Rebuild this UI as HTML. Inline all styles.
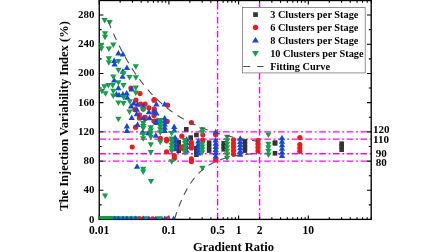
<!DOCTYPE html>
<html><head><meta charset="utf-8"><title>Injection Variability Index vs Gradient Ratio</title>
<style>html,body{margin:0;padding:0;background:#fff;overflow:hidden}svg{display:block}</style></head>
<body>
<svg width="448" height="252" viewBox="0 0 448 252">
<rect x="0" y="0" width="448" height="252" fill="#fff"/>
<defs><clipPath id="c"><rect x="99.25" y="0.5" width="271.95" height="218.85"/></clipPath></defs>
<line x1="103.45" x2="367.0" y1="131.86" y2="131.86" stroke="#ff00ff" stroke-width="1.35" fill="none" stroke-dasharray="6.6 2.65 1.9 2.6" stroke-dashoffset="4.2"/>
<line x1="99.25" x2="371.2" y1="139.17" y2="139.17" stroke="#ff00ff" stroke-width="1.35" fill="none" stroke-dasharray="6.6 2.65 1.9 2.6" stroke-dashoffset="0"/>
<line x1="99.25" x2="371.2" y1="153.77" y2="153.77" stroke="#ff00ff" stroke-width="1.35" fill="none" stroke-dasharray="6.6 2.65 1.9 2.6" stroke-dashoffset="0"/>
<line x1="103.45" x2="367.0" y1="161.08" y2="161.08" stroke="#ff00ff" stroke-width="1.35" fill="none" stroke-dasharray="6.6 2.65 1.9 2.6" stroke-dashoffset="4.2"/>
<line y1="219.6" y2="0.5" x1="217.62" x2="217.62" stroke="#ff00ff" stroke-width="1.35" fill="none" stroke-dasharray="6.65 2.9 1.7 2.75"/>
<line y1="219.6" y2="0.5" x1="259.58" x2="259.58" stroke="#ff00ff" stroke-width="1.35" fill="none" stroke-dasharray="6.65 2.9 1.7 2.75"/>
<rect x="99.25" y="0.5" width="271.95" height="218.9" fill="none" stroke="#000" stroke-width="1.35"/>
<path d="M99.20,219.4 v-3.9 M99.20,0.5 v3.9 M120.18,219.4 v-2.2 M120.18,0.5 v2.2 M132.46,219.4 v-2.2 M132.46,0.5 v2.2 M141.16,219.4 v-2.2 M141.16,0.5 v2.2 M147.92,219.4 v-2.2 M147.92,0.5 v2.2 M153.44,219.4 v-2.2 M153.44,0.5 v2.2 M158.10,219.4 v-2.2 M158.10,0.5 v2.2 M162.15,219.4 v-2.2 M162.15,0.5 v2.2 M165.71,219.4 v-2.2 M165.71,0.5 v2.2 M168.90,219.4 v-3.9 M168.90,0.5 v3.9 M189.88,219.4 v-2.2 M189.88,0.5 v2.2 M202.16,219.4 v-2.2 M202.16,0.5 v2.2 M210.86,219.4 v-2.2 M210.86,0.5 v2.2 M217.62,219.4 v-2.2 M217.62,0.5 v2.2 M223.14,219.4 v-2.2 M223.14,0.5 v2.2 M227.80,219.4 v-2.2 M227.80,0.5 v2.2 M231.85,219.4 v-2.2 M231.85,0.5 v2.2 M235.41,219.4 v-2.2 M235.41,0.5 v2.2 M238.60,219.4 v-3.9 M238.60,0.5 v3.9 M259.58,219.4 v-2.2 M259.58,0.5 v2.2 M271.86,219.4 v-2.2 M271.86,0.5 v2.2 M280.56,219.4 v-2.2 M280.56,0.5 v2.2 M287.32,219.4 v-2.2 M287.32,0.5 v2.2 M292.84,219.4 v-2.2 M292.84,0.5 v2.2 M297.50,219.4 v-2.2 M297.50,0.5 v2.2 M301.55,219.4 v-2.2 M301.55,0.5 v2.2 M305.11,219.4 v-2.2 M305.11,0.5 v2.2 M308.30,219.4 v-3.9 M308.30,0.5 v3.9 M329.28,219.4 v-2.2 M329.28,0.5 v2.2 M341.56,219.4 v-2.2 M341.56,0.5 v2.2 M350.26,219.4 v-2.2 M350.26,0.5 v2.2 M357.02,219.4 v-2.2 M357.02,0.5 v2.2 M362.54,219.4 v-2.2 M362.54,0.5 v2.2 M367.20,219.4 v-2.2 M367.20,0.5 v2.2 M371.25,219.4 v-2.2 M371.25,0.5 v2.2 M99.25,219.50 h4.2 M371.2,219.50 h-4.2 M99.25,204.89 h2.4 M371.2,204.89 h-2.4 M99.25,190.29 h4.2 M371.2,190.29 h-4.2 M99.25,175.68 h2.4 M371.2,175.68 h-2.4 M99.25,161.08 h4.2 M371.2,161.08 h-4.2 M99.25,146.47 h2.4 M371.2,146.47 h-2.4 M99.25,131.86 h4.2 M371.2,131.86 h-4.2 M99.25,117.26 h2.4 M371.2,117.26 h-2.4 M99.25,102.65 h4.2 M371.2,102.65 h-4.2 M99.25,88.05 h2.4 M371.2,88.05 h-2.4 M99.25,73.44 h4.2 M371.2,73.44 h-4.2 M99.25,58.83 h2.4 M371.2,58.83 h-2.4 M99.25,44.23 h4.2 M371.2,44.23 h-4.2 M99.25,29.62 h2.4 M371.2,29.62 h-2.4 M99.25,15.02 h4.2 M371.2,15.02 h-4.2 M99.25,0.41 h2.4 M371.2,0.41 h-2.4" stroke="#000" stroke-width="1.1" fill="none"/>
<g clip-path="url(#c)">
<rect x="184.00" y="127.00" width="4.6" height="4.6" fill="#333"/>
<rect x="194.10" y="132.70" width="4.6" height="4.6" fill="#333"/>
<rect x="188.40" y="135.30" width="4.6" height="4.6" fill="#333"/>
<rect x="176.40" y="140.00" width="4.6" height="4.6" fill="#333"/>
<rect x="176.40" y="144.20" width="4.6" height="4.6" fill="#333"/>
<rect x="176.40" y="148.40" width="4.6" height="4.6" fill="#333"/>
<rect x="194.10" y="146.00" width="4.6" height="4.6" fill="#333"/>
<rect x="194.10" y="149.20" width="4.6" height="4.6" fill="#333"/>
<rect x="194.10" y="152.40" width="4.6" height="4.6" fill="#333"/>
<rect x="206.80" y="140.40" width="4.6" height="4.6" fill="#333"/>
<rect x="206.80" y="144.35" width="4.6" height="4.6" fill="#333"/>
<rect x="206.80" y="148.30" width="4.6" height="4.6" fill="#333"/>
<rect x="221.40" y="141.00" width="4.6" height="4.6" fill="#333"/>
<rect x="221.40" y="144.00" width="4.6" height="4.6" fill="#333"/>
<rect x="221.40" y="147.00" width="4.6" height="4.6" fill="#333"/>
<rect x="242.60" y="139.00" width="4.6" height="4.6" fill="#333"/>
<rect x="242.60" y="142.10" width="4.6" height="4.6" fill="#333"/>
<rect x="242.60" y="145.20" width="4.6" height="4.6" fill="#333"/>
<rect x="242.60" y="148.30" width="4.6" height="4.6" fill="#333"/>
<rect x="272.70" y="140.30" width="4.6" height="4.6" fill="#333"/>
<rect x="272.70" y="141.10" width="4.6" height="4.6" fill="#333"/>
<rect x="272.70" y="151.00" width="4.6" height="4.6" fill="#333"/>
<rect x="339.35" y="141.40" width="4.6" height="4.6" fill="#333"/>
<rect x="339.35" y="144.40" width="4.6" height="4.6" fill="#333"/>
<rect x="339.35" y="147.40" width="4.6" height="4.6" fill="#333"/>
<circle cx="140.00" cy="93.60" r="2.6" fill="#ee1a1a"/>
<circle cx="135.90" cy="100.20" r="2.6" fill="#ee1a1a"/>
<circle cx="140.60" cy="104.00" r="2.6" fill="#ee1a1a"/>
<circle cx="145.10" cy="104.00" r="2.6" fill="#ee1a1a"/>
<circle cx="143.20" cy="109.00" r="2.6" fill="#ee1a1a"/>
<circle cx="148.90" cy="107.80" r="2.6" fill="#ee1a1a"/>
<circle cx="154.00" cy="100.20" r="2.6" fill="#ee1a1a"/>
<circle cx="134.90" cy="109.70" r="2.6" fill="#ee1a1a"/>
<circle cx="139.40" cy="114.80" r="2.6" fill="#ee1a1a"/>
<circle cx="145.10" cy="118.60" r="2.6" fill="#ee1a1a"/>
<circle cx="154.00" cy="115.40" r="2.6" fill="#ee1a1a"/>
<circle cx="135.60" cy="127.20" r="2.6" fill="#ee1a1a"/>
<circle cx="139.40" cy="117.90" r="2.6" fill="#ee1a1a"/>
<circle cx="145.10" cy="117.30" r="2.6" fill="#ee1a1a"/>
<circle cx="154.00" cy="121.00" r="2.6" fill="#ee1a1a"/>
<circle cx="132.20" cy="147.00" r="2.6" fill="#ee1a1a"/>
<circle cx="130.90" cy="88.10" r="2.6" fill="#ee1a1a"/>
<circle cx="154.30" cy="99.50" r="2.6" fill="#ee1a1a"/>
<circle cx="167.50" cy="105.20" r="2.6" fill="#ee1a1a"/>
<circle cx="154.30" cy="109.00" r="2.6" fill="#ee1a1a"/>
<circle cx="154.00" cy="111.50" r="2.6" fill="#ee1a1a"/>
<circle cx="155.20" cy="121.10" r="2.6" fill="#ee1a1a"/>
<circle cx="167.20" cy="121.40" r="2.6" fill="#ee1a1a"/>
<circle cx="191.40" cy="122.50" r="2.6" fill="#ee1a1a"/>
<circle cx="160.30" cy="138.40" r="2.6" fill="#ee1a1a"/>
<circle cx="166.60" cy="151.80" r="2.6" fill="#ee1a1a"/>
<circle cx="181.80" cy="136.20" r="2.6" fill="#ee1a1a"/>
<circle cx="191.40" cy="158.80" r="2.6" fill="#ee1a1a"/>
<circle cx="191.40" cy="161.40" r="2.6" fill="#ee1a1a"/>
<circle cx="202.80" cy="134.80" r="2.6" fill="#ee1a1a"/>
<circle cx="202.80" cy="140.20" r="2.6" fill="#ee1a1a"/>
<circle cx="215.70" cy="134.70" r="2.6" fill="#ee1a1a"/>
<circle cx="215.70" cy="159.90" r="2.6" fill="#ee1a1a"/>
<circle cx="299.90" cy="137.60" r="2.6" fill="#ee1a1a"/>
<circle cx="166.60" cy="139.40" r="2.6" fill="#ee1a1a"/>
<circle cx="166.60" cy="140.80" r="2.6" fill="#ee1a1a"/>
<circle cx="174.30" cy="155.70" r="2.6" fill="#ee1a1a"/>
<circle cx="174.30" cy="158.30" r="2.6" fill="#ee1a1a"/>
<circle cx="181.80" cy="147.00" r="2.6" fill="#ee1a1a"/>
<circle cx="181.80" cy="148.20" r="2.6" fill="#ee1a1a"/>
<circle cx="191.40" cy="142.30" r="2.6" fill="#ee1a1a"/>
<circle cx="191.40" cy="145.10" r="2.6" fill="#ee1a1a"/>
<circle cx="191.40" cy="147.90" r="2.6" fill="#ee1a1a"/>
<circle cx="233.50" cy="139.80" r="2.6" fill="#ee1a1a"/>
<circle cx="233.50" cy="143.38" r="2.6" fill="#ee1a1a"/>
<circle cx="233.50" cy="146.95" r="2.6" fill="#ee1a1a"/>
<circle cx="233.50" cy="150.53" r="2.6" fill="#ee1a1a"/>
<circle cx="233.50" cy="154.10" r="2.6" fill="#ee1a1a"/>
<circle cx="258.00" cy="140.50" r="2.6" fill="#ee1a1a"/>
<circle cx="258.00" cy="143.97" r="2.6" fill="#ee1a1a"/>
<circle cx="258.00" cy="147.43" r="2.6" fill="#ee1a1a"/>
<circle cx="258.00" cy="150.90" r="2.6" fill="#ee1a1a"/>
<circle cx="299.80" cy="144.50" r="2.6" fill="#ee1a1a"/>
<circle cx="299.80" cy="147.90" r="2.6" fill="#ee1a1a"/>
<circle cx="299.80" cy="151.30" r="2.6" fill="#ee1a1a"/>
<path d="M115.25,55.40 L121.55,55.40 L118.40,49.90Z" fill="#1048e0"/>
<path d="M119.75,56.40 L126.05,56.40 L122.90,50.90Z" fill="#1048e0"/>
<path d="M111.05,63.00 L117.35,63.00 L114.20,57.50Z" fill="#1048e0"/>
<path d="M111.45,66.50 L117.75,66.50 L114.60,61.00Z" fill="#1048e0"/>
<path d="M123.75,70.00 L130.05,70.00 L126.90,64.50Z" fill="#1048e0"/>
<path d="M119.75,73.80 L126.05,73.80 L122.90,68.30Z" fill="#1048e0"/>
<path d="M119.45,78.80 L125.75,78.80 L122.60,73.30Z" fill="#1048e0"/>
<path d="M111.05,82.60 L117.35,82.60 L114.20,77.10Z" fill="#1048e0"/>
<path d="M115.25,90.20 L121.55,90.20 L118.40,84.70Z" fill="#1048e0"/>
<path d="M128.55,91.50 L134.85,91.50 L131.70,86.00Z" fill="#1048e0"/>
<path d="M113.35,96.50 L119.65,96.50 L116.50,91.00Z" fill="#1048e0"/>
<path d="M115.85,97.20 L122.15,97.20 L119.00,91.70Z" fill="#1048e0"/>
<path d="M119.75,96.50 L126.05,96.50 L122.90,91.00Z" fill="#1048e0"/>
<path d="M123.55,95.50 L129.85,95.50 L126.70,90.00Z" fill="#1048e0"/>
<path d="M124.15,99.70 L130.45,99.70 L127.30,94.20Z" fill="#1048e0"/>
<path d="M130.55,105.40 L136.85,105.40 L133.70,99.90Z" fill="#1048e0"/>
<path d="M134.35,106.70 L140.65,106.70 L137.50,101.20Z" fill="#1048e0"/>
<path d="M140.05,108.60 L146.35,108.60 L143.20,103.10Z" fill="#1048e0"/>
<path d="M127.95,108.60 L134.25,108.60 L131.10,103.10Z" fill="#1048e0"/>
<path d="M133.65,111.70 L139.95,111.70 L136.80,106.20Z" fill="#1048e0"/>
<path d="M145.75,114.30 L152.05,114.30 L148.90,108.80Z" fill="#1048e0"/>
<path d="M150.85,113.70 L157.15,113.70 L154.00,108.20Z" fill="#1048e0"/>
<path d="M133.65,116.20 L139.95,116.20 L136.80,110.70Z" fill="#1048e0"/>
<path d="M128.55,120.10 L134.85,120.10 L131.70,114.60Z" fill="#1048e0"/>
<path d="M140.05,120.20 L146.35,120.20 L143.20,114.70Z" fill="#1048e0"/>
<path d="M146.35,120.20 L152.65,120.20 L149.50,114.70Z" fill="#1048e0"/>
<path d="M123.75,128.60 L130.05,128.60 L126.90,123.10Z" fill="#1048e0"/>
<path d="M123.75,132.90 L130.05,132.90 L126.90,127.40Z" fill="#1048e0"/>
<path d="M134.35,127.00 L140.65,127.00 L137.50,121.50Z" fill="#1048e0"/>
<path d="M139.35,134.60 L145.65,134.60 L142.50,129.10Z" fill="#1048e0"/>
<path d="M145.15,135.20 L151.45,135.20 L148.30,129.70Z" fill="#1048e0"/>
<path d="M133.95,168.80 L140.25,168.80 L137.10,163.30Z" fill="#1048e0"/>
<path d="M153.25,106.40 L159.55,106.40 L156.40,100.90Z" fill="#1048e0"/>
<path d="M161.55,106.40 L167.85,106.40 L164.70,100.90Z" fill="#1048e0"/>
<path d="M153.25,115.60 L159.55,115.60 L156.40,110.10Z" fill="#1048e0"/>
<path d="M161.55,120.60 L167.85,120.60 L164.70,115.10Z" fill="#1048e0"/>
<path d="M152.65,124.40 L158.95,124.40 L155.80,118.90Z" fill="#1048e0"/>
<path d="M152.65,137.70 L158.95,137.70 L155.80,132.20Z" fill="#1048e0"/>
<path d="M212.55,134.20 L218.85,134.20 L215.70,128.70Z" fill="#1048e0"/>
<path d="M161.55,123.45 L167.85,123.45 L164.70,117.95Z" fill="#1048e0"/>
<path d="M161.55,126.62 L167.85,126.62 L164.70,121.12Z" fill="#1048e0"/>
<path d="M161.55,129.78 L167.85,129.78 L164.70,124.28Z" fill="#1048e0"/>
<path d="M161.55,132.95 L167.85,132.95 L164.70,127.45Z" fill="#1048e0"/>
<path d="M153.85,122.95 L160.15,122.95 L157.00,117.45Z" fill="#1048e0"/>
<path d="M153.85,124.95 L160.15,124.95 L157.00,119.45Z" fill="#1048e0"/>
<path d="M171.05,129.05 L177.35,129.05 L174.20,123.55Z" fill="#1048e0"/>
<path d="M171.05,132.45 L177.35,132.45 L174.20,126.95Z" fill="#1048e0"/>
<path d="M172.05,139.90 L178.35,139.90 L175.20,134.40Z" fill="#1048e0"/>
<path d="M172.05,143.70 L178.35,143.70 L175.20,138.20Z" fill="#1048e0"/>
<path d="M172.05,147.50 L178.35,147.50 L175.20,142.00Z" fill="#1048e0"/>
<path d="M172.05,151.30 L178.35,151.30 L175.20,145.80Z" fill="#1048e0"/>
<path d="M183.55,141.70 L189.85,141.70 L186.70,136.20Z" fill="#1048e0"/>
<path d="M183.55,145.37 L189.85,145.37 L186.70,139.87Z" fill="#1048e0"/>
<path d="M183.55,149.03 L189.85,149.03 L186.70,143.53Z" fill="#1048e0"/>
<path d="M183.55,152.70 L189.85,152.70 L186.70,147.20Z" fill="#1048e0"/>
<path d="M195.15,143.45 L201.45,143.45 L198.30,137.95Z" fill="#1048e0"/>
<path d="M195.15,146.47 L201.45,146.47 L198.30,140.97Z" fill="#1048e0"/>
<path d="M195.15,149.50 L201.45,149.50 L198.30,144.00Z" fill="#1048e0"/>
<path d="M195.15,152.52 L201.45,152.52 L198.30,147.02Z" fill="#1048e0"/>
<path d="M195.15,155.55 L201.45,155.55 L198.30,150.05Z" fill="#1048e0"/>
<path d="M212.55,142.45 L218.85,142.45 L215.70,136.95Z" fill="#1048e0"/>
<path d="M212.55,145.67 L218.85,145.67 L215.70,140.17Z" fill="#1048e0"/>
<path d="M212.55,148.89 L218.85,148.89 L215.70,143.39Z" fill="#1048e0"/>
<path d="M212.55,152.11 L218.85,152.11 L215.70,146.61Z" fill="#1048e0"/>
<path d="M212.55,155.33 L218.85,155.33 L215.70,149.83Z" fill="#1048e0"/>
<path d="M212.55,158.55 L218.85,158.55 L215.70,153.05Z" fill="#1048e0"/>
<path d="M237.05,140.70 L243.35,140.70 L240.20,135.20Z" fill="#1048e0"/>
<path d="M237.05,143.90 L243.35,143.90 L240.20,138.40Z" fill="#1048e0"/>
<path d="M237.05,147.10 L243.35,147.10 L240.20,141.60Z" fill="#1048e0"/>
<path d="M237.05,150.30 L243.35,150.30 L240.20,144.80Z" fill="#1048e0"/>
<path d="M237.05,153.50 L243.35,153.50 L240.20,148.00Z" fill="#1048e0"/>
<path d="M237.05,156.70 L243.35,156.70 L240.20,151.20Z" fill="#1048e0"/>
<path d="M278.85,140.15 L285.15,140.15 L282.00,134.65Z" fill="#1048e0"/>
<path d="M278.85,143.71 L285.15,143.71 L282.00,138.21Z" fill="#1048e0"/>
<path d="M278.85,147.27 L285.15,147.27 L282.00,141.77Z" fill="#1048e0"/>
<path d="M278.85,150.83 L285.15,150.83 L282.00,145.33Z" fill="#1048e0"/>
<path d="M278.85,154.39 L285.15,154.39 L282.00,148.89Z" fill="#1048e0"/>
<path d="M278.85,157.95 L285.15,157.95 L282.00,152.45Z" fill="#1048e0"/>
<path d="M101.45,18.10 L107.75,18.10 L104.60,23.60Z" fill="#14a045"/>
<path d="M106.45,20.10 L112.75,20.10 L109.60,25.60Z" fill="#14a045"/>
<path d="M101.85,31.30 L108.15,31.30 L105.00,36.80Z" fill="#14a045"/>
<path d="M101.85,34.80 L108.15,34.80 L105.00,40.30Z" fill="#14a045"/>
<path d="M98.15,42.80 L104.45,42.80 L101.30,48.30Z" fill="#14a045"/>
<path d="M98.15,46.30 L104.45,46.30 L101.30,51.80Z" fill="#14a045"/>
<path d="M110.15,42.40 L116.45,42.40 L113.30,47.90Z" fill="#14a045"/>
<path d="M105.75,46.40 L112.05,46.40 L108.90,51.90Z" fill="#14a045"/>
<path d="M105.75,56.30 L112.05,56.30 L108.90,61.80Z" fill="#14a045"/>
<path d="M105.75,60.20 L112.05,60.20 L108.90,65.70Z" fill="#14a045"/>
<path d="M115.25,58.90 L121.55,58.90 L118.40,64.40Z" fill="#14a045"/>
<path d="M132.65,64.30 L138.95,64.30 L135.80,69.80Z" fill="#14a045"/>
<path d="M115.25,67.80 L121.55,67.80 L118.40,73.30Z" fill="#14a045"/>
<path d="M120.35,71.20 L126.65,71.20 L123.50,76.70Z" fill="#14a045"/>
<path d="M110.15,74.60 L116.45,74.60 L113.30,80.10Z" fill="#14a045"/>
<path d="M126.35,75.00 L132.65,75.00 L129.50,80.50Z" fill="#14a045"/>
<path d="M132.75,75.30 L139.05,75.30 L135.90,80.80Z" fill="#14a045"/>
<path d="M115.25,80.30 L121.55,80.30 L118.40,85.80Z" fill="#14a045"/>
<path d="M109.55,82.90 L115.85,82.90 L112.70,88.40Z" fill="#14a045"/>
<path d="M105.15,83.10 L111.45,83.10 L108.30,88.60Z" fill="#14a045"/>
<path d="M101.25,84.20 L107.55,84.20 L104.40,89.70Z" fill="#14a045"/>
<path d="M120.35,82.90 L126.65,82.90 L123.50,88.40Z" fill="#14a045"/>
<path d="M98.75,88.80 L105.05,88.80 L101.90,94.30Z" fill="#14a045"/>
<path d="M102.35,91.30 L108.65,91.30 L105.50,96.80Z" fill="#14a045"/>
<path d="M110.15,88.70 L116.45,88.70 L113.30,94.20Z" fill="#14a045"/>
<path d="M110.15,93.60 L116.45,93.60 L113.30,99.10Z" fill="#14a045"/>
<path d="M132.65,85.40 L138.95,85.40 L135.80,90.90Z" fill="#14a045"/>
<path d="M132.65,90.40 L138.95,90.40 L135.80,95.90Z" fill="#14a045"/>
<path d="M120.35,94.90 L126.65,94.90 L123.50,100.40Z" fill="#14a045"/>
<path d="M115.25,100.60 L121.55,100.60 L118.40,106.10Z" fill="#14a045"/>
<path d="M120.35,101.00 L126.65,101.00 L123.50,106.50Z" fill="#14a045"/>
<path d="M126.65,99.30 L132.95,99.30 L129.80,104.80Z" fill="#14a045"/>
<path d="M140.05,107.00 L146.35,107.00 L143.20,112.50Z" fill="#14a045"/>
<path d="M126.35,109.50 L132.65,109.50 L129.50,115.00Z" fill="#14a045"/>
<path d="M115.25,116.80 L121.55,116.80 L118.40,122.30Z" fill="#14a045"/>
<path d="M140.05,120.90 L146.35,120.90 L143.20,126.40Z" fill="#14a045"/>
<path d="M140.05,124.10 L146.35,124.10 L143.20,129.60Z" fill="#14a045"/>
<path d="M140.05,126.00 L146.35,126.00 L143.20,131.50Z" fill="#14a045"/>
<path d="M140.05,132.30 L146.35,132.30 L143.20,137.80Z" fill="#14a045"/>
<path d="M140.05,136.20 L146.35,136.20 L143.20,141.70Z" fill="#14a045"/>
<path d="M147.65,125.30 L153.95,125.30 L150.80,130.80Z" fill="#14a045"/>
<path d="M147.65,128.30 L153.95,128.30 L150.80,133.80Z" fill="#14a045"/>
<path d="M147.65,131.30 L153.95,131.30 L150.80,136.80Z" fill="#14a045"/>
<path d="M147.65,134.80 L153.95,134.80 L150.80,140.30Z" fill="#14a045"/>
<path d="M147.65,142.20 L153.95,142.20 L150.80,147.70Z" fill="#14a045"/>
<path d="M147.65,150.10 L153.95,150.10 L150.80,155.60Z" fill="#14a045"/>
<path d="M140.05,166.80 L146.35,166.80 L143.20,172.30Z" fill="#14a045"/>
<path d="M140.05,169.50 L146.35,169.50 L143.20,175.00Z" fill="#14a045"/>
<path d="M147.85,179.00 L154.15,179.00 L151.00,184.50Z" fill="#14a045"/>
<path d="M101.95,193.50 L108.25,193.50 L105.10,199.00Z" fill="#14a045"/>
<path d="M157.15,139.80 L163.45,139.80 L160.30,145.30Z" fill="#14a045"/>
<path d="M168.55,159.30 L174.85,159.30 L171.70,164.80Z" fill="#14a045"/>
<path d="M168.55,131.10 L174.85,131.10 L171.70,136.60Z" fill="#14a045"/>
<path d="M199.05,127.30 L205.35,127.30 L202.20,132.80Z" fill="#14a045"/>
<path d="M199.05,129.90 L205.35,129.90 L202.20,135.40Z" fill="#14a045"/>
<path d="M199.35,165.70 L205.65,165.70 L202.50,171.20Z" fill="#14a045"/>
<path d="M265.25,132.60 L271.55,132.60 L268.40,138.10Z" fill="#14a045"/>
<path d="M157.15,118.00 L163.45,118.00 L160.30,123.50Z" fill="#14a045"/>
<path d="M157.15,121.08 L163.45,121.08 L160.30,126.58Z" fill="#14a045"/>
<path d="M157.15,124.15 L163.45,124.15 L160.30,129.65Z" fill="#14a045"/>
<path d="M157.15,127.23 L163.45,127.23 L160.30,132.73Z" fill="#14a045"/>
<path d="M157.15,130.30 L163.45,130.30 L160.30,135.80Z" fill="#14a045"/>
<path d="M168.55,136.55 L174.85,136.55 L171.70,142.05Z" fill="#14a045"/>
<path d="M168.55,139.62 L174.85,139.62 L171.70,145.12Z" fill="#14a045"/>
<path d="M168.55,142.70 L174.85,142.70 L171.70,148.20Z" fill="#14a045"/>
<path d="M168.55,145.78 L174.85,145.78 L171.70,151.28Z" fill="#14a045"/>
<path d="M168.55,148.85 L174.85,148.85 L171.70,154.35Z" fill="#14a045"/>
<path d="M181.85,138.05 L188.15,138.05 L185.00,143.55Z" fill="#14a045"/>
<path d="M181.85,141.08 L188.15,141.08 L185.00,146.58Z" fill="#14a045"/>
<path d="M181.85,144.10 L188.15,144.10 L185.00,149.60Z" fill="#14a045"/>
<path d="M181.85,147.12 L188.15,147.12 L185.00,152.62Z" fill="#14a045"/>
<path d="M181.85,150.15 L188.15,150.15 L185.00,155.65Z" fill="#14a045"/>
<path d="M199.05,141.65 L205.35,141.65 L202.20,147.15Z" fill="#14a045"/>
<path d="M199.05,144.48 L205.35,144.48 L202.20,149.98Z" fill="#14a045"/>
<path d="M199.05,147.32 L205.35,147.32 L202.20,152.82Z" fill="#14a045"/>
<path d="M199.05,150.15 L205.35,150.15 L202.20,155.65Z" fill="#14a045"/>
<path d="M223.95,134.75 L230.25,134.75 L227.10,140.25Z" fill="#14a045"/>
<path d="M223.95,138.23 L230.25,138.23 L227.10,143.73Z" fill="#14a045"/>
<path d="M223.95,141.72 L230.25,141.72 L227.10,147.22Z" fill="#14a045"/>
<path d="M223.95,145.20 L230.25,145.20 L227.10,150.70Z" fill="#14a045"/>
<path d="M223.95,148.68 L230.25,148.68 L227.10,154.18Z" fill="#14a045"/>
<path d="M223.95,152.17 L230.25,152.17 L227.10,157.67Z" fill="#14a045"/>
<path d="M223.95,155.65 L230.25,155.65 L227.10,161.15Z" fill="#14a045"/>
<path d="M265.25,141.75 L271.55,141.75 L268.40,147.25Z" fill="#14a045"/>
<path d="M265.25,145.35 L271.55,145.35 L268.40,150.85Z" fill="#14a045"/>
<path d="M265.25,148.95 L271.55,148.95 L268.40,154.45Z" fill="#14a045"/>
<path d="M265.25,152.55 L271.55,152.55 L268.40,158.05Z" fill="#14a045"/>
<path d="M97.35,216.25 L103.65,216.25 L100.50,221.75Z" fill="#14a045"/>
<path d="M98.95,216.25 L105.25,216.25 L102.10,221.75Z" fill="#14a045"/>
<path d="M100.55,216.25 L106.85,216.25 L103.70,221.75Z" fill="#14a045"/>
<path d="M102.15,216.25 L108.45,216.25 L105.30,221.75Z" fill="#14a045"/>
<path d="M103.75,216.25 L110.05,216.25 L106.90,221.75Z" fill="#14a045"/>
<path d="M105.35,216.25 L111.65,216.25 L108.50,221.75Z" fill="#14a045"/>
<path d="M106.95,216.25 L113.25,216.25 L110.10,221.75Z" fill="#14a045"/>
<path d="M108.55,216.25 L114.85,216.25 L111.70,221.75Z" fill="#14a045"/>
<path d="M110.15,216.25 L116.45,216.25 L113.30,221.75Z" fill="#14a045"/>
<path d="M111.75,216.25 L118.05,216.25 L114.90,221.75Z" fill="#14a045"/>
<path d="M113.85,216.25 L120.15,216.25 L117.00,221.75Z" fill="#14a045"/>
<path d="M117.85,216.25 L124.15,216.25 L121.00,221.75Z" fill="#14a045"/>
<path d="M121.85,216.25 L128.15,216.25 L125.00,221.75Z" fill="#14a045"/>
<path d="M125.85,216.25 L132.15,216.25 L129.00,221.75Z" fill="#14a045"/>
<path d="M130.35,216.25 L136.65,216.25 L133.50,221.75Z" fill="#14a045"/>
<path d="M134.35,216.25 L140.65,216.25 L137.50,221.75Z" fill="#14a045"/>
<path d="M141.85,216.25 L148.15,216.25 L145.00,221.75Z" fill="#14a045"/>
<path d="M156.55,216.25 L162.85,216.25 L159.70,221.75Z" fill="#14a045"/>
<circle cx="140.00" cy="218.95" r="2.6" fill="#ee1a1a"/>
<circle cx="152.70" cy="218.95" r="2.6" fill="#ee1a1a"/>
<circle cx="167.30" cy="218.95" r="2.6" fill="#ee1a1a"/>
<path d="M111.45,220.95 L117.75,220.95 L114.60,215.45Z" fill="#1048e0"/>
<path d="M115.25,220.95 L121.55,220.95 L118.40,215.45Z" fill="#1048e0"/>
<path d="M119.75,220.95 L126.05,220.95 L122.90,215.45Z" fill="#1048e0"/>
<path d="M123.75,220.95 L130.05,220.95 L126.90,215.45Z" fill="#1048e0"/>
<path d="M127.95,220.95 L134.25,220.95 L131.10,215.45Z" fill="#1048e0"/>
<path d="M132.45,220.95 L138.75,220.95 L135.60,215.45Z" fill="#1048e0"/>
<path d="M140.05,220.95 L146.35,220.95 L143.20,215.45Z" fill="#1048e0"/>
<path d="M145.75,220.95 L152.05,220.95 L148.90,215.45Z" fill="#1048e0"/>
<path d="M152.75,220.95 L159.05,220.95 L155.90,215.45Z" fill="#1048e0"/>
<path d="M161.65,220.95 L167.95,220.95 L164.80,215.45Z" fill="#1048e0"/>
<path d="M170.55,220.95 L176.85,220.95 L173.70,215.45Z" fill="#1048e0"/>
</g>
<path d="M108.25,21.32 L109.19,23.64 L110.13,25.91 L111.07,28.15 L112.01,30.34 L112.95,32.49 L113.90,34.60 L114.84,36.67 L115.78,38.71 L116.72,40.71 L117.66,42.67 L118.60,44.60 L119.54,46.49 L120.48,48.34 L121.42,50.17 L122.36,51.96 L123.31,53.71 L124.25,55.44 L125.19,57.13 L126.13,58.79 L127.07,60.42 L128.01,62.02 L128.95,63.60 L129.89,65.14 L130.83,66.66 L131.77,68.14 L132.71,69.60 L133.66,71.04 L134.60,72.44 L135.54,73.83 L136.48,75.18 L137.42,76.52 L138.36,77.82 L139.30,79.11 L140.24,80.37 L141.18,81.60 L142.12,82.82 L143.06,84.01 L144.01,85.18 L144.95,86.33 L145.89,87.46 L146.83,88.56 L147.77,89.65 L148.71,90.72 L149.65,91.77 L150.59,92.80 L151.53,93.81 L152.47,94.80 L153.42,95.77 L154.36,96.73 L155.30,97.66 L156.24,98.58 L157.18,99.49 L158.12,100.38 L159.06,101.25 L160.00,102.10 L160.94,102.94 L161.88,103.77 L162.82,104.58 L163.77,105.37 L164.71,106.15 L165.65,106.92 L166.59,107.67 L167.53,108.41 L168.47,109.13 L169.41,109.84 L170.35,110.54 L171.29,111.22 L172.23,111.90 L173.17,112.56 L174.12,113.21 L175.06,113.84 L176.00,114.47 L176.94,115.08 L177.88,115.68 L178.82,116.28 L179.76,116.86 L180.70,117.43 L181.64,117.99 L182.58,118.54 L183.53,119.07 L184.47,119.60 L185.41,120.12 L186.35,120.63 L187.29,121.13 L188.23,121.63 L189.17,122.11 L190.11,122.58 L191.05,123.05 L191.99,123.51 L192.93,123.95 L193.88,124.39 L194.82,124.83 L195.76,125.25 L196.70,125.67 L197.64,126.08 L198.58,126.48 L199.52,126.87 L200.46,127.26 L201.40,127.64 L202.34,128.01 L203.28,128.38 L204.23,128.74 L205.17,129.09 L206.11,129.44 L207.05,129.78 L207.99,130.11 L208.93,130.44 L209.87,130.76 L210.81,131.07 L211.75,131.38 L212.69,131.69 L213.64,131.99 L214.58,132.28 L215.52,132.57 L216.46,132.85 L217.40,133.13 L218.34,133.40 L219.28,133.67 L220.22,133.93 L221.16,134.19 L222.10,134.44 L223.04,134.69 L223.99,134.93 L224.93,135.17 L225.87,135.41 L226.81,135.64 L227.75,135.87 L228.69,136.09 L229.63,136.31 L230.57,136.52 L231.51,136.73 L232.45,136.94 L233.39,137.14 L234.34,137.34 L235.28,137.54 L236.22,137.73 L237.16,137.92 L238.10,138.10 L239.04,138.28 L239.98,138.46 L240.92,138.64 L241.86,138.81 L242.80,138.98 L243.75,139.14 L244.69,139.31 L245.63,139.46 L246.57,139.62 L247.51,139.78 L248.45,139.93 L249.39,140.07 L250.33,140.22 L251.27,140.36 L252.21,140.50 L253.15,140.64 L254.10,140.78 L255.04,140.91 L255.98,141.04 L256.92,141.17 L257.86,141.29 L258.80,141.42" stroke="#505050" stroke-width="1.1" stroke-dasharray="7.2 6" fill="none" clip-path="url(#c)"/>
<path d="M174.65,218.74 L175.18,217.09 L175.70,215.49 L176.23,213.92 L176.75,212.39 L177.28,210.90 L177.81,209.44 L178.33,208.03 L178.86,206.64 L179.38,205.29 L179.91,203.98 L180.44,202.69 L180.96,201.44 L181.49,200.22 L182.01,199.03 L182.54,197.87 L183.06,196.74 L183.59,195.64 L184.12,194.56 L184.64,193.51 L185.17,192.49 L185.69,191.49 L186.22,190.51 L186.75,189.56 L187.27,188.64 L187.80,187.73 L188.32,186.85 L188.85,185.99 L189.38,185.16 L189.90,184.34 L190.43,183.54 L190.95,182.76 L191.48,182.01 L192.01,181.27 L192.53,180.55 L193.06,179.84 L193.58,179.16 L194.11,178.49 L194.64,177.84 L195.16,177.20 L195.69,176.58 L196.21,175.98 L196.74,175.39 L197.27,174.81 L197.79,174.25 L198.32,173.70 L198.84,173.17 L199.37,172.65 L199.90,172.14 L200.42,171.64 L200.95,171.16 L201.47,170.69 L202.00,170.23 L202.52,169.78 L203.05,169.35 L203.58,168.92 L204.10,168.51 L204.63,168.10 L205.15,167.70 L205.68,167.32 L206.21,166.94 L206.73,166.58 L207.26,166.22 L207.78,165.87 L208.31,165.53 L208.84,165.20 L209.36,164.88 L209.89,164.56 L210.41,164.25 L210.94,163.95 L211.47,163.66 L211.99,163.38 L212.52,163.10 L213.04,162.83 L213.57,162.56 L214.10,162.30 L214.62,162.05 L215.15,161.81 L215.67,161.57 L216.20,161.33 L216.73,161.11 L217.25,160.88 L217.78,160.67 L218.30,160.46 L218.83,160.25 L219.35,160.05 L219.88,159.85 L220.41,159.66 L220.93,159.48 L221.46,159.29 L221.98,159.12 L222.51,158.94 L223.04,158.78 L223.56,158.61 L224.09,158.45 L224.61,158.29 L225.14,158.14 L225.67,157.99 L226.19,157.85 L226.72,157.71 L227.24,157.57 L227.77,157.43 L228.30,157.30 L228.82,157.17 L229.35,157.05 L229.87,156.93 L230.40,156.81 L230.93,156.69 L231.45,156.58 L231.98,156.47 L232.50,156.36 L233.03,156.26 L233.56,156.16 L234.08,156.06 L234.61,155.96 L235.13,155.87 L235.66,155.77 L236.18,155.68 L236.71,155.59 L237.24,155.51 L237.76,155.43 L238.29,155.34 L238.81,155.26 L239.34,155.19 L239.87,155.11 L240.39,155.04 L240.92,154.97 L241.44,154.90 L241.97,154.83 L242.50,154.76 L243.02,154.70 L243.55,154.63 L244.07,154.57 L244.60,154.51 L245.13,154.45 L245.65,154.39 L246.18,154.34 L246.70,154.28 L247.23,154.23 L247.76,154.18 L248.28,154.13 L248.81,154.08 L249.33,154.03 L249.86,153.98 L250.38,153.94 L250.91,153.89 L251.44,153.85 L251.96,153.81 L252.49,153.76 L253.01,153.72 L253.54,153.69 L254.07,153.65 L254.59,153.61 L255.12,153.57 L255.64,153.54 L256.17,153.50 L256.70,153.47 L257.22,153.44 L257.75,153.40 L258.27,153.37 L258.80,153.34" stroke="#505050" stroke-width="1.1" stroke-dasharray="7 5.9" fill="none" clip-path="url(#c)"/>
<text x="94.4" y="222.50" text-anchor="end" font-size="10.9" font-family="Liberation Serif, Times New Roman, serif" font-weight="bold">0</text>
<text x="94.4" y="193.29" text-anchor="end" font-size="10.9" font-family="Liberation Serif, Times New Roman, serif" font-weight="bold">40</text>
<text x="94.4" y="164.08" text-anchor="end" font-size="10.9" font-family="Liberation Serif, Times New Roman, serif" font-weight="bold">80</text>
<text x="94.4" y="134.86" text-anchor="end" font-size="10.9" font-family="Liberation Serif, Times New Roman, serif" font-weight="bold">120</text>
<text x="94.4" y="105.65" text-anchor="end" font-size="10.9" font-family="Liberation Serif, Times New Roman, serif" font-weight="bold">160</text>
<text x="94.4" y="76.44" text-anchor="end" font-size="10.9" font-family="Liberation Serif, Times New Roman, serif" font-weight="bold">200</text>
<text x="94.4" y="47.23" text-anchor="end" font-size="10.9" font-family="Liberation Serif, Times New Roman, serif" font-weight="bold">240</text>
<text x="94.4" y="18.02" text-anchor="end" font-size="10.9" font-family="Liberation Serif, Times New Roman, serif" font-weight="bold">280</text>
<text x="99.20" y="234.2" text-anchor="middle" font-size="11.6" font-family="Liberation Serif, Times New Roman, serif" font-weight="bold">0.01</text>
<text x="168.90" y="234.2" text-anchor="middle" font-size="11.6" font-family="Liberation Serif, Times New Roman, serif" font-weight="bold">0.1</text>
<text x="217.62" y="234.2" text-anchor="middle" font-size="11.6" font-family="Liberation Serif, Times New Roman, serif" font-weight="bold">0.5</text>
<text x="238.60" y="234.2" text-anchor="middle" font-size="11.6" font-family="Liberation Serif, Times New Roman, serif" font-weight="bold">1</text>
<text x="259.58" y="234.2" text-anchor="middle" font-size="11.6" font-family="Liberation Serif, Times New Roman, serif" font-weight="bold">2</text>
<text x="308.30" y="234.2" text-anchor="middle" font-size="11.6" font-family="Liberation Serif, Times New Roman, serif" font-weight="bold">10</text>
<text x="373.0" y="133.1" font-size="11.1" font-family="Liberation Serif, Times New Roman, serif" font-weight="bold">120</text>
<text x="373.0" y="142.6" font-size="11.1" font-family="Liberation Serif, Times New Roman, serif" font-weight="bold">110</text>
<text x="375.7" y="156.9" font-size="11.1" font-family="Liberation Serif, Times New Roman, serif" font-weight="bold">90</text>
<text x="375.7" y="166.4" font-size="11.1" font-family="Liberation Serif, Times New Roman, serif" font-weight="bold">80</text>
<text x="233.5" y="251" text-anchor="middle" font-size="12.5" font-family="Liberation Serif, Times New Roman, serif" font-weight="bold">Gradient Ratio</text>
<text transform="translate(68.0,116) rotate(-90)" text-anchor="middle" font-size="12.5" font-family="Liberation Serif, Times New Roman, serif" font-weight="bold">The Injection Variability Index (%)</text>
<rect x="242.4" y="7.5" width="122.8" height="65.4" fill="#fff" stroke="#777" stroke-width="0.8"/>
<rect x="253.15" y="12.25" width="4.7" height="4.7" fill="#333"/>
<circle cx="255.5" cy="27.4" r="2.7" fill="#ee1a1a"/>
<path d="M252.10,42.60 L258.90,42.60 L255.50,36.90Z" fill="#1048e0"/>
<path d="M252.10,51.00 L258.90,51.00 L255.50,56.70Z" fill="#14a045"/>
<path d="M243.2,66.5 H263.6" stroke="#505050" stroke-width="1.1" stroke-dasharray="7 6.9 6.5 10" fill="none"/>
<text x="270.2" y="18.20" font-size="10.3" font-family="Liberation Serif, Times New Roman, serif" font-weight="bold">3 Clusters per Stage</text>
<text x="270.2" y="31.40" font-size="10.3" font-family="Liberation Serif, Times New Roman, serif" font-weight="bold">6 Clusters per Stage</text>
<text x="270.2" y="44.30" font-size="10.3" font-family="Liberation Serif, Times New Roman, serif" font-weight="bold">8 Clusters per Stage</text>
<text x="270.2" y="57.30" font-size="10.3" font-family="Liberation Serif, Times New Roman, serif" font-weight="bold">10 Clusters per Stage</text>
<text x="270.2" y="70.20" font-size="10.3" font-family="Liberation Serif, Times New Roman, serif" font-weight="bold">Fitting Curve</text>
</svg>
</body></html>
